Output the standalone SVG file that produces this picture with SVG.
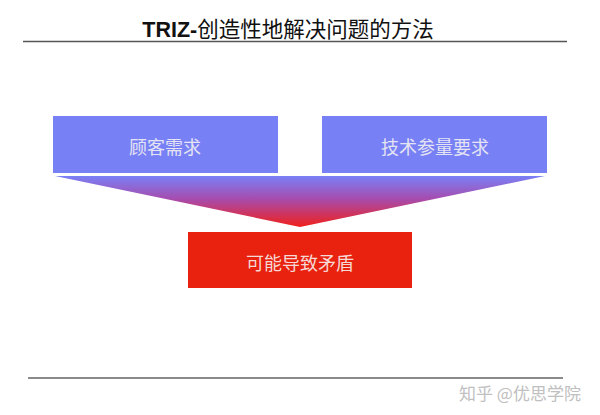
<svg xmlns="http://www.w3.org/2000/svg" width="600" height="415" viewBox="0 0 600 415">
<style>
.box{fill:#7880f6}
.lbl{font-family:"Noto Sans CJK SC","Liberation Sans",sans-serif;font-size:18px;fill:#e4e4f2;text-anchor:middle;dominant-baseline:central}
</style>
<defs>
<linearGradient id="fun" x1="0" y1="0" x2="0" y2="1">
<stop offset="0" stop-color="#7a80f6"/>
<stop offset="0.45" stop-color="#a64cae"/>
<stop offset="1" stop-color="#f0201a"/>
</linearGradient>
</defs>
<rect width="600" height="415" fill="#ffffff"/>
<g id="title">
<text x="288" y="37" text-anchor="middle" font-family="'Liberation Sans','Noto Sans CJK SC',sans-serif" font-size="21.5" fill="#111"><tspan font-weight="bold">TRIZ-</tspan>创造性地解决问题的方法</text>
<line x1="23" y1="41.5" x2="567" y2="41.5" stroke="#555" stroke-width="1.5"/>
</g>
<g id="connectors">
<polygon points="55,176 545,176 300,227" fill="url(#fun)"/>
</g>
<g id="customer">
<rect class="box" x="53" y="116" width="225" height="57"/>
<text class="lbl" x="165" y="146">顾客需求</text>
</g>
<g id="tech">
<rect class="box" x="322" y="116" width="225" height="57"/>
<text class="lbl" x="435" y="146">技术参量要求</text>
</g>
<g id="conflict">
<rect x="188" y="232" width="224" height="56" fill="#e8220f"/>
<text class="lbl" x="300" y="262" style="fill:#f6d8d4">可能导致矛盾</text>
</g>
<g id="footer">
<line x1="28" y1="378" x2="563" y2="378" stroke="#8a8a8a" stroke-width="2"/>
<text x="520" y="392" text-anchor="middle" dominant-baseline="central" font-family="'Noto Sans CJK SC','Liberation Sans',sans-serif" font-size="17" fill="#c0c0c0">知乎 @优思学院</text>
</g>
</svg>
